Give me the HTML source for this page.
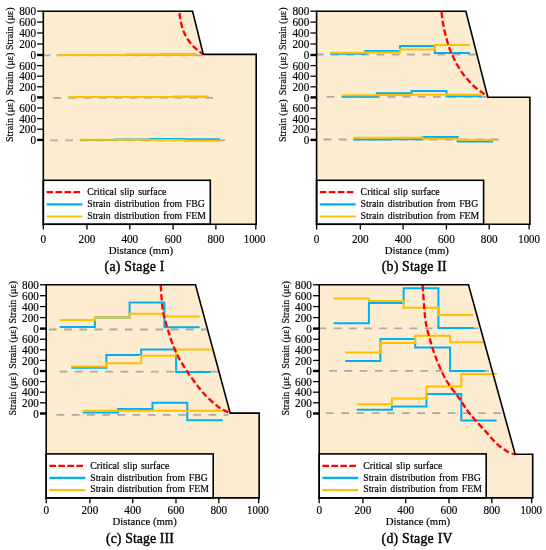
<!DOCTYPE html>
<html><head><meta charset="utf-8"><style>
html,body{margin:0;padding:0;background:#fff;}
svg{display:block;filter:blur(0.3px);}
text{font-family:"Liberation Serif", "Times New Roman", serif;fill:#000;stroke:#000;stroke-width:0.18px;}
</style></head><body>
<svg width="546" height="550" viewBox="0 0 546 550">
<rect width="546" height="550" fill="#fff"/>
<g><polygon points="43.3,11.2 192.6,11.2 203.3,54.4 256.2,54.4 256.2,224.3 43.3,224.3" fill="#FDECCF"/>
<line x1="42.5" y1="55.3" x2="203.8" y2="55.3" stroke="#AAAAAA" stroke-width="1.8" stroke-dasharray="7.8 7.4"/>
<line x1="53.3" y1="97.9" x2="214.7" y2="97.9" stroke="#AAAAAA" stroke-width="1.8" stroke-dasharray="7.8 7.4"/>
<line x1="50.1" y1="140.4" x2="225.6" y2="140.4" stroke="#AAAAAA" stroke-width="1.8" stroke-dasharray="7.8 7.4"/>
<path d="M56.8,55 H92 V54.9 H126.7 V54.7 H161.5 V54.5 H196.7" fill="none" stroke="#00B0F0" stroke-width="2" stroke-linejoin="miter"/>
<path d="M68.4,97 H103.5 V97 H138.3 V97 H173.2 V96.7 H208.3" fill="none" stroke="#00B0F0" stroke-width="2" stroke-linejoin="miter"/>
<path d="M79.9,139.9 H115.1 V139.4 H149.6 V138.9 H184.4 V139.3 H219.8" fill="none" stroke="#00B0F0" stroke-width="2" stroke-linejoin="miter"/>
<path d="M56.8,55 H92 V55 H126.7 V54.8 H161.5 V54.7 H196.7" fill="none" stroke="#FFC000" stroke-width="2" stroke-linejoin="miter"/>
<path d="M68.4,97 H103.5 V97 H138.3 V97 H173.2 V97 H208.3" fill="none" stroke="#FFC000" stroke-width="2" stroke-linejoin="miter"/>
<path d="M79.9,139.7 H115.1 V139.7 H149.6 V139.9 H184.4 V140.8 H219.8" fill="none" stroke="#FFC000" stroke-width="2" stroke-linejoin="miter"/>
<path d="M179.5,13 C179.67,14.17 179.92,17.17 180.5,20 C181.08,22.83 181.92,27 183,30 C184.08,33 185.5,35.5 187,38 C188.5,40.5 190.25,43 192,45 C193.75,47 195.62,48.43 197.5,50 C199.38,51.57 202.33,53.67 203.3,54.4" fill="none" stroke="#FF0000" stroke-width="2.3" stroke-dasharray="6.2 2.8"/>
<polyline points="43.3,11.2 192.6,11.2 203.3,54.4 256.2,54.4 256.2,224.3" fill="none" stroke="#000" stroke-width="1.6" stroke-linejoin="miter"/>
<rect x="43.3" y="180.3" width="167" height="44" fill="#fff" stroke="#000" stroke-width="1.6"/>
<line x1="46.5" y1="192.2" x2="82.4" y2="192.2" stroke="#FF0000" stroke-width="2.3" stroke-dasharray="6.6 2.4"/>
<line x1="46.5" y1="204.3" x2="82.4" y2="204.3" stroke="#00B0F0" stroke-width="2.2"/>
<line x1="46.5" y1="216.5" x2="82.4" y2="216.5" stroke="#FFC000" stroke-width="2.2"/>
<text x="87.3" y="194.9" font-size="9.8" word-spacing="1.2">Critical slip surface</text>
<text x="87.3" y="206.9" font-size="9.8" word-spacing="1.2">Strain distribution from FBG</text>
<text x="87.3" y="218.6" font-size="9.8" word-spacing="1.2">Strain distribution from FEM</text>
<line x1="43.3" y1="10.4" x2="43.3" y2="225.1" stroke="#000" stroke-width="1.6"/>
<line x1="42.5" y1="224.3" x2="257" y2="224.3" stroke="#000" stroke-width="1.6"/>
<line x1="37.1" y1="11.2" x2="43.3" y2="11.2" stroke="#000" stroke-width="1.3"/>
<text x="36" y="15.3" font-size="12" text-anchor="end" textLength="16.8" lengthAdjust="spacingAndGlyphs">800</text>
<line x1="37.1" y1="22.1" x2="43.3" y2="22.1" stroke="#000" stroke-width="1.3"/>
<text x="36" y="26.2" font-size="12" text-anchor="end" textLength="16.8" lengthAdjust="spacingAndGlyphs">600</text>
<line x1="37.1" y1="33" x2="43.3" y2="33" stroke="#000" stroke-width="1.3"/>
<text x="36" y="37.1" font-size="12" text-anchor="end" textLength="16.8" lengthAdjust="spacingAndGlyphs">400</text>
<line x1="37.1" y1="44" x2="43.3" y2="44" stroke="#000" stroke-width="1.3"/>
<text x="36" y="48.1" font-size="12" text-anchor="end" textLength="16.8" lengthAdjust="spacingAndGlyphs">200</text>
<line x1="37.1" y1="55" x2="43.3" y2="55" stroke="#000" stroke-width="2.4"/>
<text x="36" y="59.1" font-size="12" text-anchor="end" textLength="5.6" lengthAdjust="spacingAndGlyphs">0</text>
<line x1="37.1" y1="65.6" x2="43.3" y2="65.6" stroke="#000" stroke-width="1.3"/>
<text x="36" y="69.7" font-size="12" text-anchor="end" textLength="16.8" lengthAdjust="spacingAndGlyphs">600</text>
<line x1="37.1" y1="76.2" x2="43.3" y2="76.2" stroke="#000" stroke-width="1.3"/>
<text x="36" y="80.3" font-size="12" text-anchor="end" textLength="16.8" lengthAdjust="spacingAndGlyphs">400</text>
<line x1="37.1" y1="86.8" x2="43.3" y2="86.8" stroke="#000" stroke-width="1.3"/>
<text x="36" y="90.9" font-size="12" text-anchor="end" textLength="16.8" lengthAdjust="spacingAndGlyphs">200</text>
<line x1="37.1" y1="97.4" x2="43.3" y2="97.4" stroke="#000" stroke-width="2.4"/>
<text x="36" y="101.5" font-size="12" text-anchor="end" textLength="5.6" lengthAdjust="spacingAndGlyphs">0</text>
<line x1="37.1" y1="108" x2="43.3" y2="108" stroke="#000" stroke-width="1.3"/>
<text x="36" y="112.1" font-size="12" text-anchor="end" textLength="16.8" lengthAdjust="spacingAndGlyphs">600</text>
<line x1="37.1" y1="118.6" x2="43.3" y2="118.6" stroke="#000" stroke-width="1.3"/>
<text x="36" y="122.7" font-size="12" text-anchor="end" textLength="16.8" lengthAdjust="spacingAndGlyphs">400</text>
<line x1="37.1" y1="129.2" x2="43.3" y2="129.2" stroke="#000" stroke-width="1.3"/>
<text x="36" y="133.3" font-size="12" text-anchor="end" textLength="16.8" lengthAdjust="spacingAndGlyphs">200</text>
<line x1="37.1" y1="139.9" x2="43.3" y2="139.9" stroke="#000" stroke-width="2.4"/>
<text x="36" y="144" font-size="12" text-anchor="end" textLength="5.6" lengthAdjust="spacingAndGlyphs">0</text>
<line x1="43.3" y1="224.3" x2="43.3" y2="229.6" stroke="#000" stroke-width="1.3"/>
<text x="43.3" y="242.9" font-size="12" text-anchor="middle" textLength="5.6" lengthAdjust="spacingAndGlyphs">0</text>
<line x1="87" y1="224.3" x2="87" y2="229.6" stroke="#000" stroke-width="1.3"/>
<text x="87" y="242.9" font-size="12" text-anchor="middle" textLength="16.8" lengthAdjust="spacingAndGlyphs">200</text>
<line x1="129.8" y1="224.3" x2="129.8" y2="229.6" stroke="#000" stroke-width="1.3"/>
<text x="129.8" y="242.9" font-size="12" text-anchor="middle" textLength="16.8" lengthAdjust="spacingAndGlyphs">400</text>
<line x1="173.1" y1="224.3" x2="173.1" y2="229.6" stroke="#000" stroke-width="1.3"/>
<text x="173.1" y="242.9" font-size="12" text-anchor="middle" textLength="16.8" lengthAdjust="spacingAndGlyphs">600</text>
<line x1="215.9" y1="224.3" x2="215.9" y2="229.6" stroke="#000" stroke-width="1.3"/>
<text x="215.9" y="242.9" font-size="12" text-anchor="middle" textLength="16.8" lengthAdjust="spacingAndGlyphs">800</text>
<line x1="255.8" y1="224.3" x2="255.8" y2="229.6" stroke="#000" stroke-width="1.3"/>
<text x="254.6" y="242.9" font-size="12" text-anchor="middle" textLength="21.6" lengthAdjust="spacingAndGlyphs">1000</text>
<text x="108.85" y="253.9" font-size="11" textLength="64.3" lengthAdjust="spacingAndGlyphs">Distance (mm)</text>
<text x="104.6" y="271.4" font-size="13.8" style="stroke-width:0.4px" textLength="59.8" lengthAdjust="spacing">(a) Stage I</text>
<text transform="translate(12.8,28.75) rotate(-90)" font-size="10" text-anchor="middle" textLength="42.5" lengthAdjust="spacingAndGlyphs">Strain (με)</text>
<text transform="translate(12.8,74) rotate(-90)" font-size="10" text-anchor="middle" textLength="42.5" lengthAdjust="spacingAndGlyphs">Strain (με)</text>
<text transform="translate(12.8,120.7) rotate(-90)" font-size="10" text-anchor="middle" textLength="42.5" lengthAdjust="spacingAndGlyphs">Strain (με)</text></g>
<g><polygon points="316.6,11.2 465.9,11.2 487.8,97.3 529.9,97.3 529.9,224.3 316.6,224.3" fill="#FDECCF"/>
<line x1="315.8" y1="54.5" x2="477.1" y2="54.5" stroke="#AAAAAA" stroke-width="1.8" stroke-dasharray="7.8 7.4"/>
<line x1="326.6" y1="96.9" x2="488" y2="96.9" stroke="#AAAAAA" stroke-width="1.8" stroke-dasharray="7.8 7.4"/>
<line x1="323.4" y1="139.5" x2="498.9" y2="139.5" stroke="#AAAAAA" stroke-width="1.8" stroke-dasharray="7.8 7.4"/>
<path d="M330.1,53.8 H365.3 V50.9 H400 V46 H434.8 V52.9 H470" fill="none" stroke="#00B0F0" stroke-width="2" stroke-linejoin="miter"/>
<path d="M341.7,96.8 H376.8 V93.2 H411.6 V91 H446.5 V96.2 H481.6" fill="none" stroke="#00B0F0" stroke-width="2" stroke-linejoin="miter"/>
<path d="M353.2,139.5 H388.4 V139.3 H422.9 V136.9 H457.7 V141.5 H493.1" fill="none" stroke="#00B0F0" stroke-width="2" stroke-linejoin="miter"/>
<path d="M330.1,52.7 H365.3 V52.5 H400 V49.4 H434.8 V45 H470" fill="none" stroke="#FFC000" stroke-width="2" stroke-linejoin="miter"/>
<path d="M341.7,95.2 H376.8 V95 H411.6 V94.8 H446.5 V94.8 H481.6" fill="none" stroke="#FFC000" stroke-width="2" stroke-linejoin="miter"/>
<path d="M353.2,137.7 H388.4 V137.8 H422.9 V138.7 H457.7 V139.7 H493.1" fill="none" stroke="#FFC000" stroke-width="2" stroke-linejoin="miter"/>
<path d="M441.6,11.9 C441.8,13.63 442.17,18.55 442.8,22.3 C443.43,26.05 444.4,30.37 445.4,34.4 C446.4,38.43 447.65,43.05 448.8,46.5 C449.95,49.95 450.85,51.95 452.3,55.1 C453.75,58.25 455.48,61.95 457.5,65.4 C459.52,68.85 461.82,72.48 464.4,75.8 C466.98,79.12 470.13,82.57 473,85.3 C475.87,88.03 479.07,90.28 481.6,92.2 C484.13,94.12 487.1,96.03 488.2,96.8" fill="none" stroke="#FF0000" stroke-width="2.3" stroke-dasharray="6.2 2.8"/>
<polyline points="316.6,11.2 465.9,11.2 487.8,97.3 529.9,97.3 529.9,224.3" fill="none" stroke="#000" stroke-width="1.6" stroke-linejoin="miter"/>
<rect x="316.6" y="180.3" width="167" height="44" fill="#fff" stroke="#000" stroke-width="1.6"/>
<line x1="319.8" y1="192.2" x2="355.7" y2="192.2" stroke="#FF0000" stroke-width="2.3" stroke-dasharray="6.6 2.4"/>
<line x1="319.8" y1="204.3" x2="355.7" y2="204.3" stroke="#00B0F0" stroke-width="2.2"/>
<line x1="319.8" y1="216.5" x2="355.7" y2="216.5" stroke="#FFC000" stroke-width="2.2"/>
<text x="360.6" y="194.9" font-size="9.8" word-spacing="1.2">Critical slip surface</text>
<text x="360.6" y="206.9" font-size="9.8" word-spacing="1.2">Strain distribution from FBG</text>
<text x="360.6" y="218.6" font-size="9.8" word-spacing="1.2">Strain distribution from FEM</text>
<line x1="316.6" y1="10.4" x2="316.6" y2="225.1" stroke="#000" stroke-width="1.6"/>
<line x1="315.8" y1="224.3" x2="530.7" y2="224.3" stroke="#000" stroke-width="1.6"/>
<line x1="310.4" y1="11.2" x2="316.6" y2="11.2" stroke="#000" stroke-width="1.3"/>
<text x="309.3" y="15.3" font-size="12" text-anchor="end" textLength="16.8" lengthAdjust="spacingAndGlyphs">800</text>
<line x1="310.4" y1="22.1" x2="316.6" y2="22.1" stroke="#000" stroke-width="1.3"/>
<text x="309.3" y="26.2" font-size="12" text-anchor="end" textLength="16.8" lengthAdjust="spacingAndGlyphs">600</text>
<line x1="310.4" y1="33" x2="316.6" y2="33" stroke="#000" stroke-width="1.3"/>
<text x="309.3" y="37.1" font-size="12" text-anchor="end" textLength="16.8" lengthAdjust="spacingAndGlyphs">400</text>
<line x1="310.4" y1="44" x2="316.6" y2="44" stroke="#000" stroke-width="1.3"/>
<text x="309.3" y="48.1" font-size="12" text-anchor="end" textLength="16.8" lengthAdjust="spacingAndGlyphs">200</text>
<line x1="310.4" y1="55" x2="316.6" y2="55" stroke="#000" stroke-width="2.4"/>
<text x="309.3" y="59.1" font-size="12" text-anchor="end" textLength="5.6" lengthAdjust="spacingAndGlyphs">0</text>
<line x1="310.4" y1="65.6" x2="316.6" y2="65.6" stroke="#000" stroke-width="1.3"/>
<text x="309.3" y="69.7" font-size="12" text-anchor="end" textLength="16.8" lengthAdjust="spacingAndGlyphs">600</text>
<line x1="310.4" y1="76.2" x2="316.6" y2="76.2" stroke="#000" stroke-width="1.3"/>
<text x="309.3" y="80.3" font-size="12" text-anchor="end" textLength="16.8" lengthAdjust="spacingAndGlyphs">400</text>
<line x1="310.4" y1="86.8" x2="316.6" y2="86.8" stroke="#000" stroke-width="1.3"/>
<text x="309.3" y="90.9" font-size="12" text-anchor="end" textLength="16.8" lengthAdjust="spacingAndGlyphs">200</text>
<line x1="310.4" y1="97.4" x2="316.6" y2="97.4" stroke="#000" stroke-width="2.4"/>
<text x="309.3" y="101.5" font-size="12" text-anchor="end" textLength="5.6" lengthAdjust="spacingAndGlyphs">0</text>
<line x1="310.4" y1="108" x2="316.6" y2="108" stroke="#000" stroke-width="1.3"/>
<text x="309.3" y="112.1" font-size="12" text-anchor="end" textLength="16.8" lengthAdjust="spacingAndGlyphs">600</text>
<line x1="310.4" y1="118.6" x2="316.6" y2="118.6" stroke="#000" stroke-width="1.3"/>
<text x="309.3" y="122.7" font-size="12" text-anchor="end" textLength="16.8" lengthAdjust="spacingAndGlyphs">400</text>
<line x1="310.4" y1="129.2" x2="316.6" y2="129.2" stroke="#000" stroke-width="1.3"/>
<text x="309.3" y="133.3" font-size="12" text-anchor="end" textLength="16.8" lengthAdjust="spacingAndGlyphs">200</text>
<line x1="310.4" y1="139.9" x2="316.6" y2="139.9" stroke="#000" stroke-width="2.4"/>
<text x="309.3" y="144" font-size="12" text-anchor="end" textLength="5.6" lengthAdjust="spacingAndGlyphs">0</text>
<line x1="316.6" y1="224.3" x2="316.6" y2="229.6" stroke="#000" stroke-width="1.3"/>
<text x="316.6" y="242.9" font-size="12" text-anchor="middle" textLength="5.6" lengthAdjust="spacingAndGlyphs">0</text>
<line x1="360.3" y1="224.3" x2="360.3" y2="229.6" stroke="#000" stroke-width="1.3"/>
<text x="360.3" y="242.9" font-size="12" text-anchor="middle" textLength="16.8" lengthAdjust="spacingAndGlyphs">200</text>
<line x1="403.1" y1="224.3" x2="403.1" y2="229.6" stroke="#000" stroke-width="1.3"/>
<text x="403.1" y="242.9" font-size="12" text-anchor="middle" textLength="16.8" lengthAdjust="spacingAndGlyphs">400</text>
<line x1="446.4" y1="224.3" x2="446.4" y2="229.6" stroke="#000" stroke-width="1.3"/>
<text x="446.4" y="242.9" font-size="12" text-anchor="middle" textLength="16.8" lengthAdjust="spacingAndGlyphs">600</text>
<line x1="489.2" y1="224.3" x2="489.2" y2="229.6" stroke="#000" stroke-width="1.3"/>
<text x="489.2" y="242.9" font-size="12" text-anchor="middle" textLength="16.8" lengthAdjust="spacingAndGlyphs">800</text>
<line x1="529.1" y1="224.3" x2="529.1" y2="229.6" stroke="#000" stroke-width="1.3"/>
<text x="529.1" y="242.9" font-size="12" text-anchor="middle" textLength="21.6" lengthAdjust="spacingAndGlyphs">1000</text>
<text x="384.65" y="254" font-size="11" textLength="64.3" lengthAdjust="spacingAndGlyphs">Distance (mm)</text>
<text x="381.85" y="271.3" font-size="13.8" style="stroke-width:0.4px" textLength="64.7" lengthAdjust="spacing">(b) Stage II</text>
<text transform="translate(286.1,28.75) rotate(-90)" font-size="10" text-anchor="middle" textLength="42.5" lengthAdjust="spacingAndGlyphs">Strain (με)</text>
<text transform="translate(286.1,74) rotate(-90)" font-size="10" text-anchor="middle" textLength="42.5" lengthAdjust="spacingAndGlyphs">Strain (με)</text>
<text transform="translate(286.1,120.7) rotate(-90)" font-size="10" text-anchor="middle" textLength="42.5" lengthAdjust="spacingAndGlyphs">Strain (με)</text></g>
<g><polygon points="46.2,284.8 195.5,284.8 230.2,413.1 259.2,413.1 259.2,497.9 46.2,497.9" fill="#FDECCF"/>
<line x1="48.9" y1="329.5" x2="206.7" y2="329.5" stroke="#AAAAAA" stroke-width="1.8" stroke-dasharray="7.8 7.4"/>
<line x1="59.7" y1="371.7" x2="217.6" y2="371.7" stroke="#AAAAAA" stroke-width="1.8" stroke-dasharray="7.8 7.4"/>
<line x1="56.5" y1="414.8" x2="228.5" y2="414.8" stroke="#AAAAAA" stroke-width="1.8" stroke-dasharray="7.8 7.4"/>
<path d="M59.7,327 H94.9 V317.4 H129.6 V302.4 H164.4 V327.2 H199.6" fill="none" stroke="#00B0F0" stroke-width="2" stroke-linejoin="miter"/>
<path d="M71.3,367.8 H106.4 V355 H141.2 V349.5 H176.1 V372.1 H211.2" fill="none" stroke="#00B0F0" stroke-width="2" stroke-linejoin="miter"/>
<path d="M82.8,412.6 H118 V408.9 H152.5 V402.7 H187.3 V420.3 H222.7" fill="none" stroke="#00B0F0" stroke-width="2" stroke-linejoin="miter"/>
<path d="M59.7,320 H94.9 V317.4 H129.6 V313.8 H164.4 V316.4 H199.6" fill="none" stroke="#FFC000" stroke-width="2" stroke-linejoin="miter"/>
<path d="M71.3,366.5 H106.4 V363.2 H141.2 V355.7 H176.1 V349.5 H211.2" fill="none" stroke="#FFC000" stroke-width="2" stroke-linejoin="miter"/>
<path d="M82.8,410.8 H118 V410.8 H152.5 V410.8 H187.3 V410.8 H222.7" fill="none" stroke="#FFC000" stroke-width="2" stroke-linejoin="miter"/>
<path d="M160.7,285.3 C160.95,288.65 161.57,299.92 162.2,305.4 C162.83,310.88 163.48,313.95 164.5,318.2 C165.52,322.45 166.98,326.67 168.3,330.9 C169.62,335.13 170.78,339.37 172.4,343.6 C174.02,347.83 175.8,352.05 178,356.3 C180.2,360.55 182.85,364.85 185.6,369.1 C188.35,373.35 191.32,377.57 194.5,381.8 C197.68,386.03 200.67,390.27 204.7,394.5 C208.73,398.73 214.45,404.1 218.7,407.2 C222.95,410.3 228.28,412.12 230.2,413.1" fill="none" stroke="#FF0000" stroke-width="2.3" stroke-dasharray="6.2 2.8"/>
<polyline points="46.2,284.8 195.5,284.8 230.2,413.1 259.2,413.1 259.2,497.9" fill="none" stroke="#000" stroke-width="1.6" stroke-linejoin="miter"/>
<rect x="46.2" y="453.9" width="167" height="44" fill="#fff" stroke="#000" stroke-width="1.6"/>
<line x1="49.4" y1="465.8" x2="85.3" y2="465.8" stroke="#FF0000" stroke-width="2.3" stroke-dasharray="6.6 2.4"/>
<line x1="49.4" y1="477.9" x2="85.3" y2="477.9" stroke="#00B0F0" stroke-width="2.2"/>
<line x1="49.4" y1="490.1" x2="85.3" y2="490.1" stroke="#FFC000" stroke-width="2.2"/>
<text x="90.2" y="468.5" font-size="9.8" word-spacing="1.2">Critical slip surface</text>
<text x="90.2" y="480.5" font-size="9.8" word-spacing="1.2">Strain distribution from FBG</text>
<text x="90.2" y="492.2" font-size="9.8" word-spacing="1.2">Strain distribution from FEM</text>
<line x1="46.2" y1="284" x2="46.2" y2="498.7" stroke="#000" stroke-width="1.6"/>
<line x1="45.4" y1="497.9" x2="260" y2="497.9" stroke="#000" stroke-width="1.6"/>
<line x1="40" y1="284.8" x2="46.2" y2="284.8" stroke="#000" stroke-width="1.3"/>
<text x="38.9" y="288.9" font-size="12" text-anchor="end" textLength="16.8" lengthAdjust="spacingAndGlyphs">800</text>
<line x1="40" y1="295.7" x2="46.2" y2="295.7" stroke="#000" stroke-width="1.3"/>
<text x="38.9" y="299.8" font-size="12" text-anchor="end" textLength="16.8" lengthAdjust="spacingAndGlyphs">600</text>
<line x1="40" y1="306.6" x2="46.2" y2="306.6" stroke="#000" stroke-width="1.3"/>
<text x="38.9" y="310.7" font-size="12" text-anchor="end" textLength="16.8" lengthAdjust="spacingAndGlyphs">400</text>
<line x1="40" y1="317.6" x2="46.2" y2="317.6" stroke="#000" stroke-width="1.3"/>
<text x="38.9" y="321.7" font-size="12" text-anchor="end" textLength="16.8" lengthAdjust="spacingAndGlyphs">200</text>
<line x1="40" y1="328.6" x2="46.2" y2="328.6" stroke="#000" stroke-width="2.4"/>
<text x="38.9" y="332.7" font-size="12" text-anchor="end" textLength="5.6" lengthAdjust="spacingAndGlyphs">0</text>
<line x1="40" y1="339.2" x2="46.2" y2="339.2" stroke="#000" stroke-width="1.3"/>
<text x="38.9" y="343.3" font-size="12" text-anchor="end" textLength="16.8" lengthAdjust="spacingAndGlyphs">600</text>
<line x1="40" y1="349.8" x2="46.2" y2="349.8" stroke="#000" stroke-width="1.3"/>
<text x="38.9" y="353.9" font-size="12" text-anchor="end" textLength="16.8" lengthAdjust="spacingAndGlyphs">400</text>
<line x1="40" y1="360.4" x2="46.2" y2="360.4" stroke="#000" stroke-width="1.3"/>
<text x="38.9" y="364.5" font-size="12" text-anchor="end" textLength="16.8" lengthAdjust="spacingAndGlyphs">200</text>
<line x1="40" y1="371" x2="46.2" y2="371" stroke="#000" stroke-width="2.4"/>
<text x="38.9" y="375.1" font-size="12" text-anchor="end" textLength="5.6" lengthAdjust="spacingAndGlyphs">0</text>
<line x1="40" y1="381.6" x2="46.2" y2="381.6" stroke="#000" stroke-width="1.3"/>
<text x="38.9" y="385.7" font-size="12" text-anchor="end" textLength="16.8" lengthAdjust="spacingAndGlyphs">600</text>
<line x1="40" y1="392.2" x2="46.2" y2="392.2" stroke="#000" stroke-width="1.3"/>
<text x="38.9" y="396.3" font-size="12" text-anchor="end" textLength="16.8" lengthAdjust="spacingAndGlyphs">400</text>
<line x1="40" y1="402.8" x2="46.2" y2="402.8" stroke="#000" stroke-width="1.3"/>
<text x="38.9" y="406.9" font-size="12" text-anchor="end" textLength="16.8" lengthAdjust="spacingAndGlyphs">200</text>
<line x1="40" y1="413.5" x2="46.2" y2="413.5" stroke="#000" stroke-width="2.4"/>
<text x="38.9" y="417.6" font-size="12" text-anchor="end" textLength="5.6" lengthAdjust="spacingAndGlyphs">0</text>
<line x1="46.2" y1="497.9" x2="46.2" y2="503.2" stroke="#000" stroke-width="1.3"/>
<text x="46.2" y="513.9" font-size="12" text-anchor="middle" textLength="5.6" lengthAdjust="spacingAndGlyphs">0</text>
<line x1="89.9" y1="497.9" x2="89.9" y2="503.2" stroke="#000" stroke-width="1.3"/>
<text x="89.9" y="513.9" font-size="12" text-anchor="middle" textLength="16.8" lengthAdjust="spacingAndGlyphs">200</text>
<line x1="132.7" y1="497.9" x2="132.7" y2="503.2" stroke="#000" stroke-width="1.3"/>
<text x="132.7" y="513.9" font-size="12" text-anchor="middle" textLength="16.8" lengthAdjust="spacingAndGlyphs">400</text>
<line x1="176" y1="497.9" x2="176" y2="503.2" stroke="#000" stroke-width="1.3"/>
<text x="176" y="513.9" font-size="12" text-anchor="middle" textLength="16.8" lengthAdjust="spacingAndGlyphs">600</text>
<line x1="218.8" y1="497.9" x2="218.8" y2="503.2" stroke="#000" stroke-width="1.3"/>
<text x="218.8" y="513.9" font-size="12" text-anchor="middle" textLength="16.8" lengthAdjust="spacingAndGlyphs">800</text>
<line x1="258.7" y1="497.9" x2="258.7" y2="503.2" stroke="#000" stroke-width="1.3"/>
<text x="257.9" y="513.9" font-size="12" text-anchor="middle" textLength="21.6" lengthAdjust="spacingAndGlyphs">1000</text>
<text x="112.55" y="524.9" font-size="11" textLength="64.3" lengthAdjust="spacingAndGlyphs">Distance (mm)</text>
<text x="105.95" y="542.5" font-size="13.8" style="stroke-width:0.4px" textLength="67.9" lengthAdjust="spacing">(c) Stage III</text>
<text transform="translate(15.7,302.35) rotate(-90)" font-size="10" text-anchor="middle" textLength="42.5" lengthAdjust="spacingAndGlyphs">Strain (με)</text>
<text transform="translate(15.7,347.6) rotate(-90)" font-size="10" text-anchor="middle" textLength="42.5" lengthAdjust="spacingAndGlyphs">Strain (με)</text>
<text transform="translate(15.7,394.3) rotate(-90)" font-size="10" text-anchor="middle" textLength="42.5" lengthAdjust="spacingAndGlyphs">Strain (με)</text></g>
<g><polygon points="319.2,284.8 468.5,284.8 515.2,454.3 532.7,454.3 532.7,497.9 319.2,497.9" fill="#FDECCF"/>
<line x1="318.4" y1="328.4" x2="479.7" y2="328.4" stroke="#AAAAAA" stroke-width="1.8" stroke-dasharray="7.8 7.4"/>
<line x1="329.2" y1="370.9" x2="490.6" y2="370.9" stroke="#AAAAAA" stroke-width="1.8" stroke-dasharray="7.8 7.4"/>
<line x1="326" y1="413.2" x2="501.5" y2="413.2" stroke="#AAAAAA" stroke-width="1.8" stroke-dasharray="7.8 7.4"/>
<path d="M333.7,323.3 H368.9 V302.9 H403.6 V288.2 H438.4 V328 H473.6" fill="none" stroke="#00B0F0" stroke-width="2" stroke-linejoin="miter"/>
<path d="M345.3,360.9 H380.4 V339 H415.2 V347.4 H450.1 V371.1 H485.2" fill="none" stroke="#00B0F0" stroke-width="2" stroke-linejoin="miter"/>
<path d="M356.8,409.8 H392 V406.5 H426.5 V394 H461.3 V420.5 H496.7" fill="none" stroke="#00B0F0" stroke-width="2" stroke-linejoin="miter"/>
<path d="M333.7,298.6 H368.9 V300.9 H403.6 V307.8 H438.4 V314.9 H473.6" fill="none" stroke="#FFC000" stroke-width="2" stroke-linejoin="miter"/>
<path d="M345.3,352.5 H380.4 V343.1 H415.2 V335.8 H450.1 V342.3 H485.2" fill="none" stroke="#FFC000" stroke-width="2" stroke-linejoin="miter"/>
<path d="M356.8,404.2 H392 V398.6 H426.5 V386.6 H461.3 V374.1 H496.7" fill="none" stroke="#FFC000" stroke-width="2" stroke-linejoin="miter"/>
<path d="M422.6,285.1 C423.03,290.62 424.13,309.72 425.2,318.2 C426.27,326.68 427.3,329.65 429,336 C430.7,342.35 432.63,349.1 435.4,356.3 C438.17,363.5 441.78,372.42 445.6,379.2 C449.42,385.98 454.68,391.8 458.3,397 C461.92,402.2 464.67,406.78 467.3,410.4 C469.93,414.02 470.98,415.12 474.1,418.7 C477.22,422.28 482.1,427.63 486,431.9 C489.9,436.17 493.75,440.92 497.5,444.3 C501.25,447.68 505.55,450.52 508.5,452.2 C511.45,453.88 514.08,454.03 515.2,454.4" fill="none" stroke="#FF0000" stroke-width="2.3" stroke-dasharray="6.2 2.8"/>
<polyline points="319.2,284.8 468.5,284.8 515.2,454.3 532.7,454.3 532.7,497.9" fill="none" stroke="#000" stroke-width="1.6" stroke-linejoin="miter"/>
<rect x="319.2" y="453.9" width="167" height="44" fill="#fff" stroke="#000" stroke-width="1.6"/>
<line x1="322.4" y1="465.8" x2="358.3" y2="465.8" stroke="#FF0000" stroke-width="2.3" stroke-dasharray="6.6 2.4"/>
<line x1="322.4" y1="477.9" x2="358.3" y2="477.9" stroke="#00B0F0" stroke-width="2.2"/>
<line x1="322.4" y1="490.1" x2="358.3" y2="490.1" stroke="#FFC000" stroke-width="2.2"/>
<text x="363.2" y="468.5" font-size="9.8" word-spacing="1.2">Critical slip surface</text>
<text x="363.2" y="480.5" font-size="9.8" word-spacing="1.2">Strain distribution from FBG</text>
<text x="363.2" y="492.2" font-size="9.8" word-spacing="1.2">Strain distribution from FEM</text>
<line x1="319.2" y1="284" x2="319.2" y2="498.7" stroke="#000" stroke-width="1.6"/>
<line x1="318.4" y1="497.9" x2="533.5" y2="497.9" stroke="#000" stroke-width="1.6"/>
<line x1="313" y1="284.8" x2="319.2" y2="284.8" stroke="#000" stroke-width="1.3"/>
<text x="311.9" y="288.9" font-size="12" text-anchor="end" textLength="16.8" lengthAdjust="spacingAndGlyphs">800</text>
<line x1="313" y1="295.7" x2="319.2" y2="295.7" stroke="#000" stroke-width="1.3"/>
<text x="311.9" y="299.8" font-size="12" text-anchor="end" textLength="16.8" lengthAdjust="spacingAndGlyphs">600</text>
<line x1="313" y1="306.6" x2="319.2" y2="306.6" stroke="#000" stroke-width="1.3"/>
<text x="311.9" y="310.7" font-size="12" text-anchor="end" textLength="16.8" lengthAdjust="spacingAndGlyphs">400</text>
<line x1="313" y1="317.6" x2="319.2" y2="317.6" stroke="#000" stroke-width="1.3"/>
<text x="311.9" y="321.7" font-size="12" text-anchor="end" textLength="16.8" lengthAdjust="spacingAndGlyphs">200</text>
<line x1="313" y1="328.6" x2="319.2" y2="328.6" stroke="#000" stroke-width="2.4"/>
<text x="311.9" y="332.7" font-size="12" text-anchor="end" textLength="5.6" lengthAdjust="spacingAndGlyphs">0</text>
<line x1="313" y1="339.2" x2="319.2" y2="339.2" stroke="#000" stroke-width="1.3"/>
<text x="311.9" y="343.3" font-size="12" text-anchor="end" textLength="16.8" lengthAdjust="spacingAndGlyphs">600</text>
<line x1="313" y1="349.8" x2="319.2" y2="349.8" stroke="#000" stroke-width="1.3"/>
<text x="311.9" y="353.9" font-size="12" text-anchor="end" textLength="16.8" lengthAdjust="spacingAndGlyphs">400</text>
<line x1="313" y1="360.4" x2="319.2" y2="360.4" stroke="#000" stroke-width="1.3"/>
<text x="311.9" y="364.5" font-size="12" text-anchor="end" textLength="16.8" lengthAdjust="spacingAndGlyphs">200</text>
<line x1="313" y1="371" x2="319.2" y2="371" stroke="#000" stroke-width="2.4"/>
<text x="311.9" y="375.1" font-size="12" text-anchor="end" textLength="5.6" lengthAdjust="spacingAndGlyphs">0</text>
<line x1="313" y1="381.6" x2="319.2" y2="381.6" stroke="#000" stroke-width="1.3"/>
<text x="311.9" y="385.7" font-size="12" text-anchor="end" textLength="16.8" lengthAdjust="spacingAndGlyphs">600</text>
<line x1="313" y1="392.2" x2="319.2" y2="392.2" stroke="#000" stroke-width="1.3"/>
<text x="311.9" y="396.3" font-size="12" text-anchor="end" textLength="16.8" lengthAdjust="spacingAndGlyphs">400</text>
<line x1="313" y1="402.8" x2="319.2" y2="402.8" stroke="#000" stroke-width="1.3"/>
<text x="311.9" y="406.9" font-size="12" text-anchor="end" textLength="16.8" lengthAdjust="spacingAndGlyphs">200</text>
<line x1="313" y1="413.5" x2="319.2" y2="413.5" stroke="#000" stroke-width="2.4"/>
<text x="311.9" y="417.6" font-size="12" text-anchor="end" textLength="5.6" lengthAdjust="spacingAndGlyphs">0</text>
<line x1="319.2" y1="497.9" x2="319.2" y2="503.2" stroke="#000" stroke-width="1.3"/>
<text x="319.2" y="513.9" font-size="12" text-anchor="middle" textLength="5.6" lengthAdjust="spacingAndGlyphs">0</text>
<line x1="362.9" y1="497.9" x2="362.9" y2="503.2" stroke="#000" stroke-width="1.3"/>
<text x="362.9" y="513.9" font-size="12" text-anchor="middle" textLength="16.8" lengthAdjust="spacingAndGlyphs">200</text>
<line x1="405.7" y1="497.9" x2="405.7" y2="503.2" stroke="#000" stroke-width="1.3"/>
<text x="405.7" y="513.9" font-size="12" text-anchor="middle" textLength="16.8" lengthAdjust="spacingAndGlyphs">400</text>
<line x1="449" y1="497.9" x2="449" y2="503.2" stroke="#000" stroke-width="1.3"/>
<text x="449" y="513.9" font-size="12" text-anchor="middle" textLength="16.8" lengthAdjust="spacingAndGlyphs">600</text>
<line x1="491.8" y1="497.9" x2="491.8" y2="503.2" stroke="#000" stroke-width="1.3"/>
<text x="491.8" y="513.9" font-size="12" text-anchor="middle" textLength="16.8" lengthAdjust="spacingAndGlyphs">800</text>
<line x1="531.7" y1="497.9" x2="531.7" y2="503.2" stroke="#000" stroke-width="1.3"/>
<text x="531.2" y="513.9" font-size="12" text-anchor="middle" textLength="21.6" lengthAdjust="spacingAndGlyphs">1000</text>
<text x="385.85" y="525.2" font-size="11" textLength="64.3" lengthAdjust="spacingAndGlyphs">Distance (mm)</text>
<text x="381.55" y="543" font-size="13.8" style="stroke-width:0.4px" textLength="70.9" lengthAdjust="spacing">(d) Stage IV</text>
<text transform="translate(288.7,302.35) rotate(-90)" font-size="10" text-anchor="middle" textLength="42.5" lengthAdjust="spacingAndGlyphs">Strain (με)</text>
<text transform="translate(288.7,347.6) rotate(-90)" font-size="10" text-anchor="middle" textLength="42.5" lengthAdjust="spacingAndGlyphs">Strain (με)</text>
<text transform="translate(288.7,394.3) rotate(-90)" font-size="10" text-anchor="middle" textLength="42.5" lengthAdjust="spacingAndGlyphs">Strain (με)</text></g>
</svg>
</body></html>
